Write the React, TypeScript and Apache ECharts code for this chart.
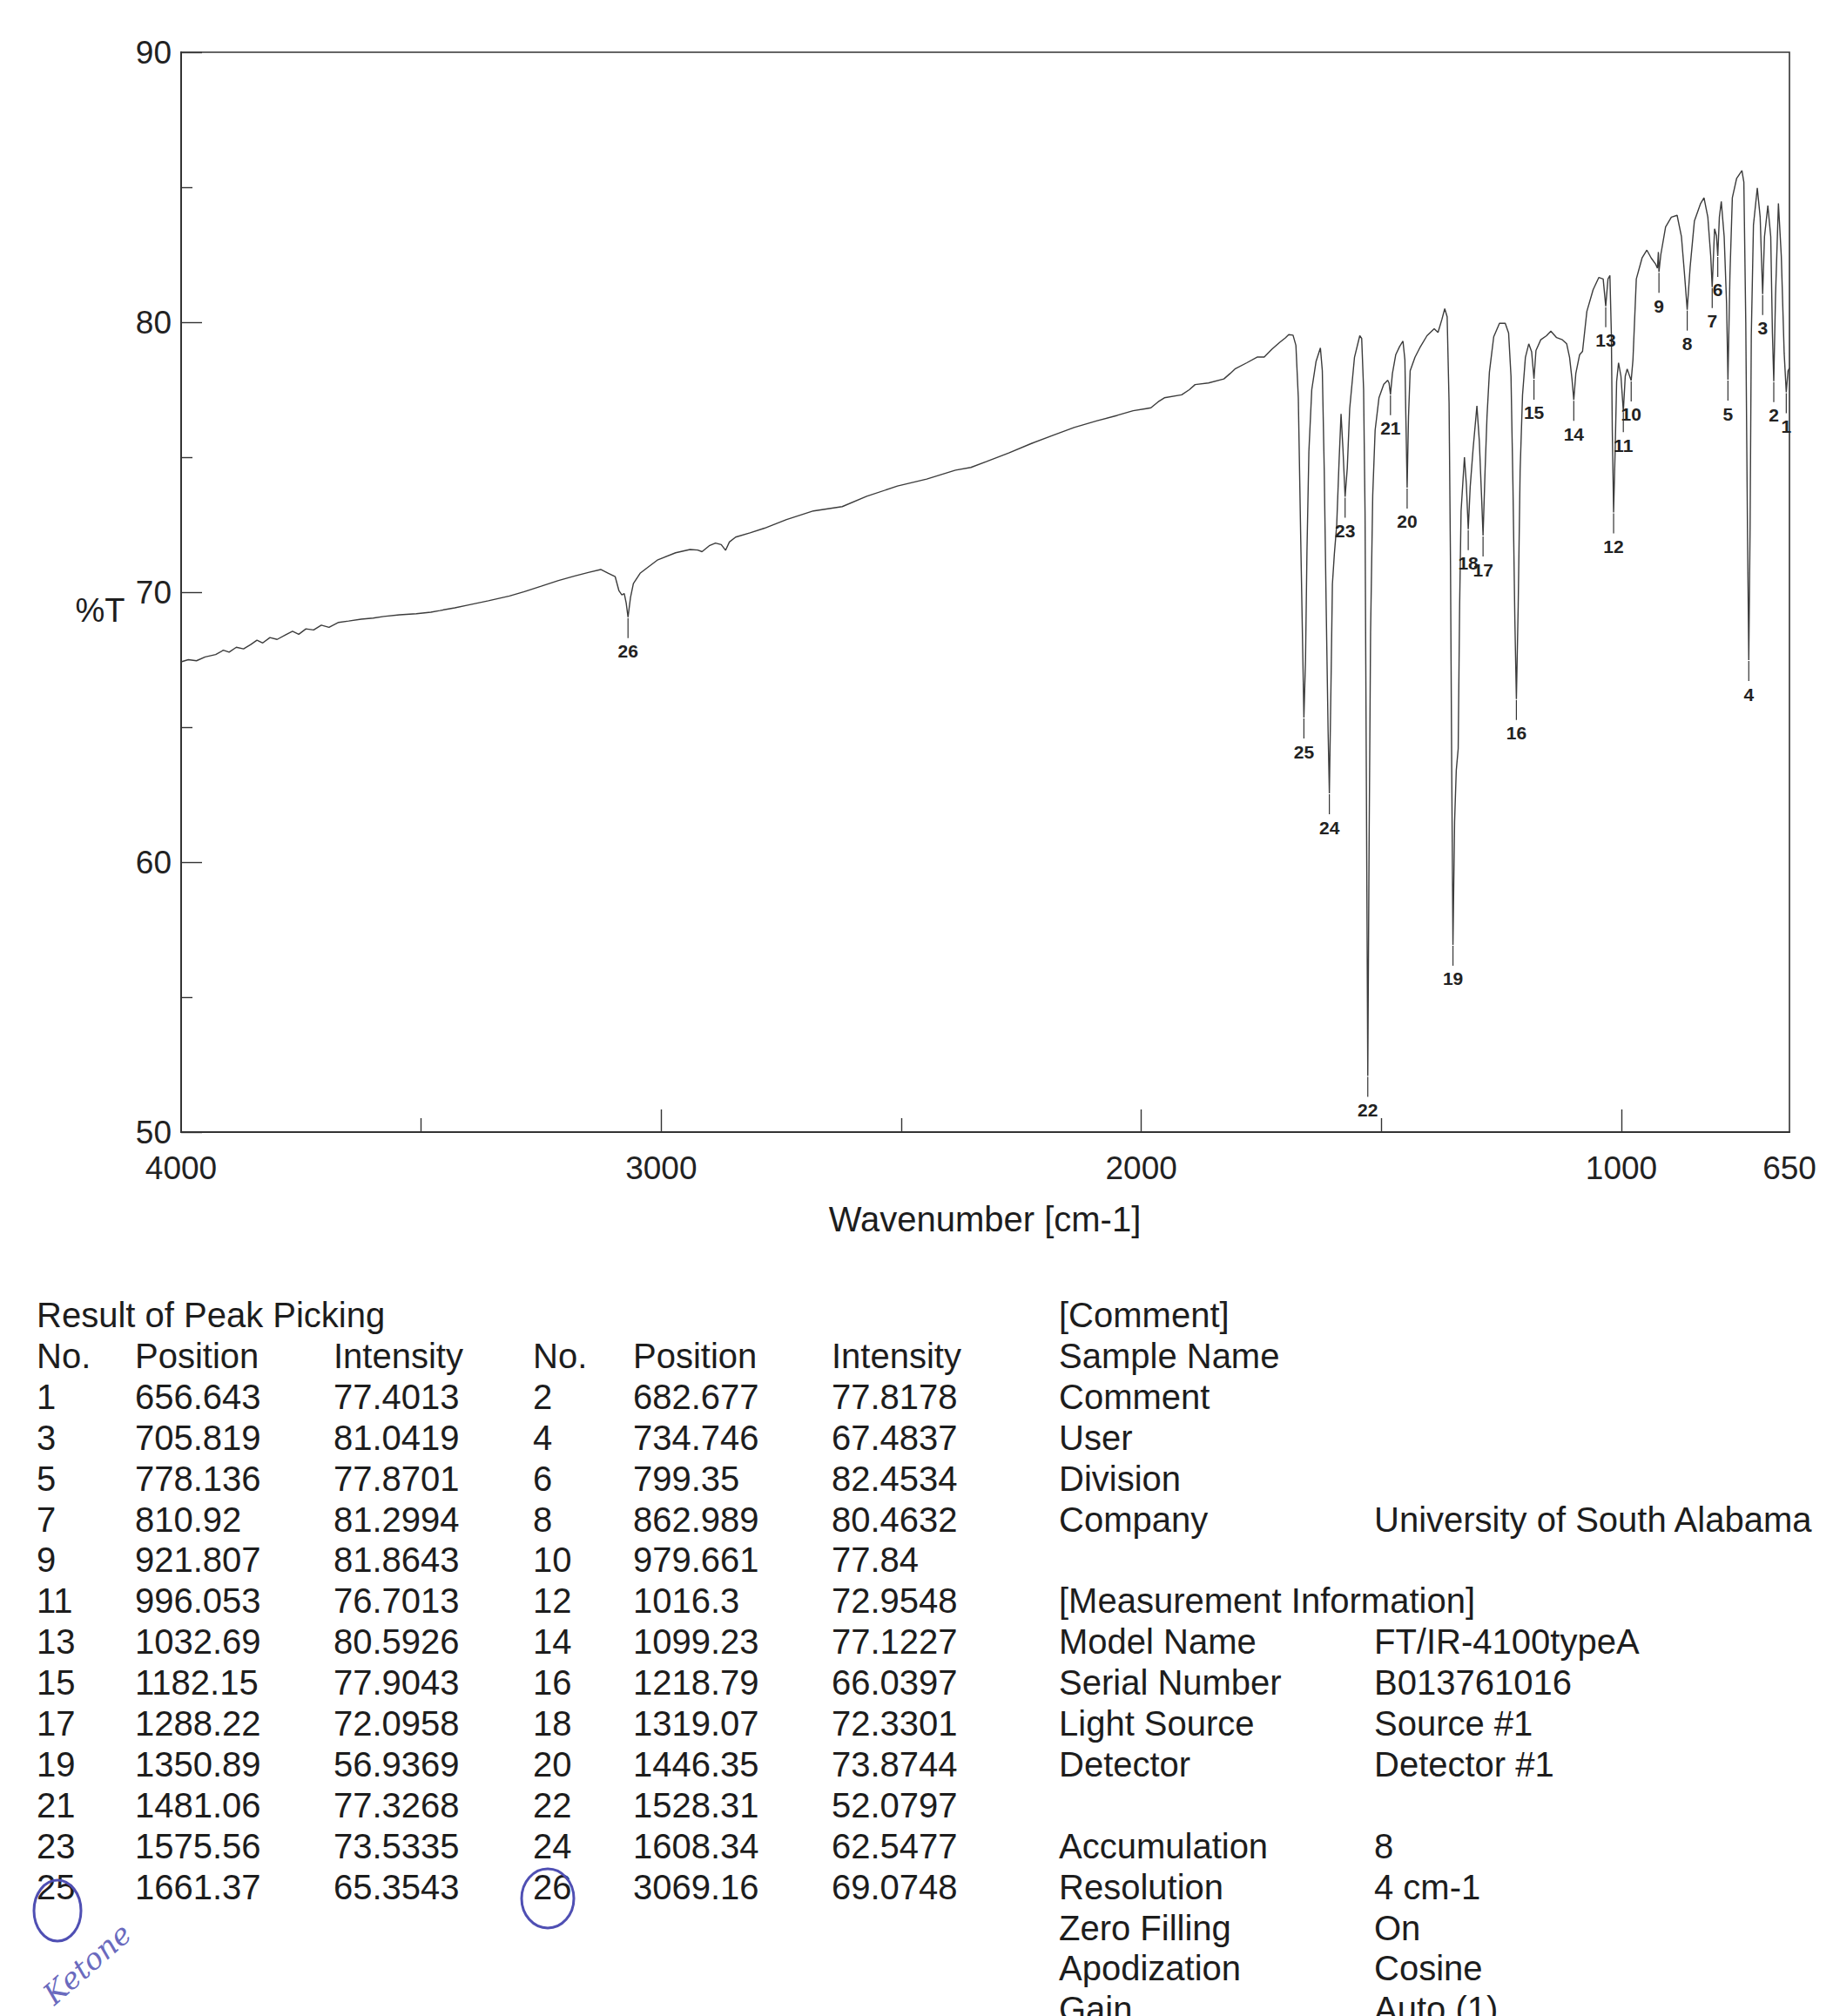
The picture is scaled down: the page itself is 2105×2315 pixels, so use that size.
import React, { useEffect, useRef } from "react";
import * as echarts from "echarts";

// ---------- axis ticks / labels ----------
const xLabelValues = [4000, 3000, 2000, 1000, 650];
const xMajorTicks = [1000, 2000, 3000];
const xMinorTicks = [1500, 2500, 3500];

// ---------- peak picking table ----------
const peakNo = [1, 2, 3, 4, 5, 6, 7, 8, 9, 10, 11, 12, 13, 14, 15, 16, 17, 18, 19, 20, 21, 22, 23, 24, 25, 26];
const peakPos = [656.643, 682.677, 705.819, 734.746, 778.136, 799.35, 810.92, 862.989, 921.807, 979.661, 996.053, 1016.3, 1032.69, 1099.23, 1182.15, 1218.79, 1288.22, 1319.07, 1350.89, 1446.35, 1481.06, 1528.31, 1575.56, 1608.34, 1661.37, 3069.16];
const peakInt = [77.4013, 77.8178, 81.0419, 67.4837, 77.8701, 82.4534, 81.2994, 80.4632, 81.8643, 77.84, 76.7013, 72.9548, 80.5926, 77.1227, 77.9043, 66.0397, 72.0958, 72.3301, 56.9369, 73.8744, 77.3268, 52.0797, 73.5335, 62.5477, 65.3543, 69.0748];

// ---------- spectrum (wavenumber, %T) ----------
const specHigh: [number, number][] = [
  [4000, 67.42], [3985, 67.5], [3968, 67.46], [3950, 67.6], [3928, 67.69], [3912, 67.85], [3900, 67.78],
  [3885, 67.96], [3870, 67.9], [3855, 68.06], [3842, 68.22], [3830, 68.12], [3815, 68.32], [3800, 68.25],
  [3782, 68.42], [3768, 68.55], [3755, 68.44], [3740, 68.64], [3724, 68.6], [3708, 68.78], [3692, 68.7],
  [3672, 68.88], [3651, 68.93], [3625, 69.0], [3600, 69.04], [3578, 69.1], [3545, 69.16], [3510, 69.2],
  [3480, 69.26], [3461, 69.32], [3430, 69.42], [3403, 69.52], [3360, 69.68], [3316, 69.86], [3285, 70.02],
  [3250, 70.22], [3214, 70.43], [3180, 70.6], [3150, 70.74], [3126, 70.84], [3110, 70.7], [3096, 70.58],
  [3088, 70.05], [3082, 69.9], [3077, 69.95], [3073, 69.6], [3069.16, 69.0748], [3064, 69.8], [3058, 70.32],
  [3044, 70.7], [3031, 70.88], [3007, 71.2], [2970, 71.46], [2940, 71.58], [2924, 71.56], [2915, 71.5],
  [2900, 71.72], [2887, 71.82], [2875, 71.76], [2866, 71.55], [2858, 71.86], [2845, 72.04], [2815, 72.2],
  [2785, 72.37], [2739, 72.69], [2683, 73.01], [2623, 73.17], [2572, 73.55], [2508, 73.93], [2447, 74.19],
  [2387, 74.52], [2355, 74.62], [2322, 74.84], [2276, 75.16], [2230, 75.5], [2184, 75.81], [2140, 76.1],
  [2092, 76.35], [2050, 76.55], [2017, 76.72], [1990, 76.8], [1980, 76.83], [1965, 77.05], [1952, 77.2],
  [1916, 77.31], [1900, 77.5], [1888, 77.69], [1860, 77.75], [1828, 77.9], [1815, 78.1], [1804, 78.28],
  [1780, 78.5], [1758, 78.71], [1744, 78.71], [1728, 79.0], [1712, 79.25], [1700, 79.42], [1693, 79.54],
  [1684, 79.52], [1678, 79.14],
];

const specCarbonyl: [number, number][] = [
  [1673, 77.2], [1668, 72.0], [1664, 68.0], [1661.37, 65.3543], [1658, 67.5], [1655, 71.5], [1651, 75.2],
  [1645, 77.5], [1636, 78.55], [1627, 79.05], [1623, 78.2], [1619, 74.5], [1615, 69.5], [1611, 64.9],
  [1608.34, 62.5477], [1605, 66.5], [1602, 70.3], [1598, 71.4], [1593, 72.5], [1588, 74.9], [1584, 76.6],
  [1580, 75.3], [1575.56, 73.5335], [1571, 74.6], [1566, 76.8], [1556, 78.7], [1545, 79.5], [1541, 79.4],
  [1537, 77.5], [1534, 72.9], [1531, 62.0], [1528.31, 52.0797], [1525.5, 60.8], [1522.5, 68.5], [1518, 73.6],
  [1513, 76.0], [1505, 77.2], [1495, 77.7], [1487, 77.85], [1484, 77.75], [1481.06, 77.3268], [1477, 78.1],
  [1470, 78.8], [1462, 79.1], [1455, 79.3], [1451, 78.6], [1449, 76.5], [1446.35, 73.8744], [1443.5, 76.5],
  [1440, 78.2], [1430, 78.7], [1420, 79.05], [1405, 79.5], [1390, 79.76], [1382, 79.62], [1374, 80.1],
  [1368, 80.5], [1363, 80.2], [1359, 77.0], [1356, 71.0], [1353.5, 63.5], [1350.89, 56.9369], [1347.5, 61.5],
  [1344, 63.4], [1340, 64.2], [1337, 69.5], [1334, 73.0], [1327, 75.0], [1323, 74.0], [1319.07, 72.3301],
  [1315, 73.9], [1309, 75.3], [1301, 76.9], [1296, 75.6], [1291, 73.4], [1288.22, 72.0958], [1284, 74.5],
  [1280, 76.5], [1275, 78.15], [1266, 79.46], [1254, 79.96], [1242, 79.96], [1235, 79.6], [1230, 78.0],
  [1226, 74.0], [1222, 69.0], [1218.79, 66.0397], [1215, 69.5], [1211, 74.5], [1206, 77.3], [1200, 78.7],
  [1193, 79.2],
];

const specFingerprint: [number, number][] = [
  [1187, 78.9], [1182.15, 77.9043], [1178, 78.95], [1168, 79.35], [1156, 79.5], [1147, 79.67], [1135, 79.43],
  [1123, 79.35], [1114, 79.2], [1108, 78.7], [1103, 77.9], [1099.23, 77.1227], [1095, 78.1], [1087, 78.8],
  [1081, 78.92], [1072, 80.4], [1059, 81.2], [1047, 81.66], [1038, 81.6], [1032.69, 80.5926], [1028, 81.6],
  [1024, 81.73], [1021, 79.6], [1019, 76.0], [1016.3, 72.9548], [1013, 75.3], [1010, 77.8], [1006, 78.5],
  [1001, 78.0], [996.053, 76.7013], [992, 78.0], [988, 78.27], [984, 78.06], [979.661, 77.84], [976, 78.6],
  [969, 81.6], [957, 82.38], [947, 82.67], [938, 82.38], [929, 82.16], [925, 82.0], [923, 82.6],
  [921.807, 81.8643], [918, 82.5], [908, 83.53], [896, 83.89], [884, 83.96], [875, 83.17], [869, 81.87],
  [862.989, 80.4632], [857, 82.02], [848, 83.75], [835, 84.4], [828, 84.61], [820, 83.89], [814, 82.45],
  [810.92, 81.2994], [806, 83.46], [802, 83.2], [799.35, 82.4534], [796, 83.89], [792, 84.47], [786, 83.17],
  [781, 80.7], [778.136, 77.8701], [774, 81.73], [769, 84.61], [760, 85.33], [749, 85.62], [745, 85.19],
  [741, 80.0], [737.5, 72.4], [734.746, 67.4837], [732, 72.4], [729.5, 79.5], [725, 83.6], [717, 84.97],
  [711, 83.89], [708, 82.2], [705.819, 81.0419], [702, 83.17], [695, 84.32], [689, 83.17], [685.5, 79.6],
  [682.677, 77.8178], [679, 81.0], [673, 84.4], [667, 82.45], [661, 78.85], [656.643, 77.4013], [653, 78.2],
  [650, 78.3],
];

// ---------- info block ----------
const infoLabels = [
  "[Comment]", "Sample Name", "Comment", "User", "Division", "Company", "",
  "[Measurement Information]", "Model Name", "Serial Number", "Light Source", "Detector", "",
  "Accumulation", "Resolution", "Zero Filling", "Apodization", "Gain",
];
const infoValues = [
  "", "", "", "", "", "University of South Alabama", "",
  "", "FT/IR-4100typeA", "B013761016", "Source #1", "Detector #1", "",
  "8", "4 cm-1", "On", "Cosine", "Auto (1)",
];

const FONT = "'Liberation Sans', Arial, Helvetica, sans-serif";
const INK = "#1d1d1d";

function buildGraphic() {
  const g: any[] = [];
  const t = (x: number, y: number, s: string, size = 40, extra: any = {}) => ({
    type: "text",
    x,
    y,
    silent: true,
    style: {
      text: s,
      fontSize: size,
      fontFamily: FONT,
      fill: INK,
      align: "left",
      verticalAlign: "middle",
      ...extra,
    },
  });
  // axis titles
  g.push(t(115, 701, "%T", 38, { align: "center" }));
  g.push(t(1131, 1400, "Wavenumber [cm-1]", 40, { align: "center" }));

  // peak table
  const rowY0 = 1510;
  const dy = 46.9;
  g.push(t(42, rowY0, "Result of Peak Picking"));
  const cols = [42, 155, 383, 612, 727, 955];
  const heads = ["No.", "Position", "Intensity", "No.", "Position", "Intensity"];
  heads.forEach((h, i) => g.push(t(cols[i], rowY0 + dy, h)));
  for (let r = 0; r < Math.ceil(peakNo.length / 2); r++) {
    const y = rowY0 + dy * (r + 2);
    for (let k = 0; k < 2; k++) {
      const i = r * 2 + k;
      if (i >= peakNo.length) continue;
      g.push(t(cols[k * 3], y, String(peakNo[i])));
      g.push(t(cols[k * 3 + 1], y, String(peakPos[i])));
      g.push(t(cols[k * 3 + 2], y, String(peakInt[i])));
    }
  }

  // info block
  infoLabels.forEach((s, i) => {
    const y = rowY0 + dy * i;
    if (s) g.push(t(1216, y, s));
    if (infoValues[i]) g.push(t(1578, y, infoValues[i]));
  });

  // handwritten annotations (blue ink)
  const ink = "#4f4fb3";
  g.push({ type: "ellipse", silent: true, shape: { cx: 66, cy: 2194, rx: 27, ry: 35 }, style: { fill: "none", stroke: ink, lineWidth: 3 } });
  g.push({ type: "ellipse", silent: true, shape: { cx: 629, cy: 2180, rx: 30, ry: 34 }, style: { fill: "none", stroke: ink, lineWidth: 3 } });
  g.push({
    type: "text",
    x: 100,
    y: 2255,
    rotation: 0.72,
    silent: true,
    style: {
      text: "Ketone",
      fontSize: 34,
      fontStyle: "italic",
      fontFamily: "'DejaVu Serif', serif",
      fill: ink,
      align: "center",
      verticalAlign: "middle",
      opacity: 0.85,
    },
  });
  return g;
}

export default function App() {
  const ref = useRef<HTMLDivElement>(null);

  useEffect(() => {
    document.body.style.margin = "0";
    if (!ref.current) return;
    const chart = echarts.init(ref.current, null, { renderer: "svg" });
    const spectrum = [...specHigh, ...specCarbonyl, ...specFingerprint];
    const peaks = peakPos.map((p, i) => [p, peakInt[i], peakNo[i]]);
    const axisColor = "#333";

    chart.setOption({
      animation: false,
      backgroundColor: "#ffffff",
      grid: {
        left: 208,
        top: 60,
        width: 1847,
        height: 1240,
        show: true,
        borderColor: axisColor,
        borderWidth: 1.6,
        backgroundColor: "transparent",
        containLabel: false,
      },
      xAxis: [
        {
          type: "value",
          min: 650,
          max: 4000,
          inverse: true,
          position: "bottom",
          axisLine: { show: true, lineStyle: { color: axisColor, width: 2.2 } },
          axisTick: { show: true, inside: true, length: 26, customValues: xMajorTicks, lineStyle: { color: axisColor, width: 1.4 } },
          axisLabel: {
            show: true,
            customValues: xLabelValues,
            showMinLabel: true,
            showMaxLabel: true,
            formatter: (v: number) => String(v),
            fontSize: 37,
            fontFamily: FONT,
            color: "#222",
            margin: 23,
          },
          splitLine: { show: false },
        },
        {
          type: "value",
          min: 650,
          max: 4000,
          inverse: true,
          position: "bottom",
          axisLine: { show: false },
          axisTick: { show: true, inside: true, length: 16, customValues: xMinorTicks, lineStyle: { color: axisColor, width: 1.4 } },
          axisLabel: { show: false },
          splitLine: { show: false },
        },
      ],
      yAxis: {
        type: "value",
        min: 50,
        max: 90,
        interval: 10,
        axisLine: { show: true, lineStyle: { color: axisColor, width: 2 } },
        axisTick: { show: true, inside: true, length: 24, lineStyle: { color: axisColor, width: 1.4 } },
        minorTick: { show: true, splitNumber: 2, length: 13, lineStyle: { color: axisColor, width: 1.4 } },
        axisLabel: { fontSize: 37, fontFamily: FONT, color: "#222", margin: 11, formatter: (v: number) => String(v) },
        splitLine: { show: false },
        minorSplitLine: { show: false },
      },
      series: [
        {
          type: "line",
          name: "spectrum",
          xAxisIndex: 0,
          data: spectrum,
          showSymbol: false,
          symbol: "none",
          smooth: false,
          lineStyle: { color: "#3c3c3c", width: 1.4 },
          z: 3,
        },
        {
          type: "custom",
          name: "peaks",
          xAxisIndex: 0,
          data: peaks,
          encode: { x: 0, y: 1 },
          clip: false,
          z: 4,
          renderItem: (_params: any, api: any) => {
            const p = api.coord([api.value(0), api.value(1)]);
            return {
              type: "group",
              children: [
                {
                  type: "line",
                  shape: { x1: p[0], y1: p[1] + 1, x2: p[0], y2: p[1] + 24 },
                  style: { stroke: "#333", lineWidth: 1.2 },
                },
                {
                  type: "text",
                  x: p[0],
                  y: p[1] + 39,
                  style: {
                    text: String(api.value(2)),
                    fontSize: 21,
                    fontWeight: "bold",
                    fontFamily: FONT,
                    fill: "#222",
                    align: "center",
                    verticalAlign: "middle",
                  },
                },
              ],
            };
          },
        },
      ],
      graphic: buildGraphic(),
    });

    return () => {
      chart.dispose();
    };
  }, []);

  return (
    <div
      ref={ref}
      style={{ position: "absolute", left: 0, top: 0, width: 2105, height: 2315, background: "#fff" }}
    />
  );
}
